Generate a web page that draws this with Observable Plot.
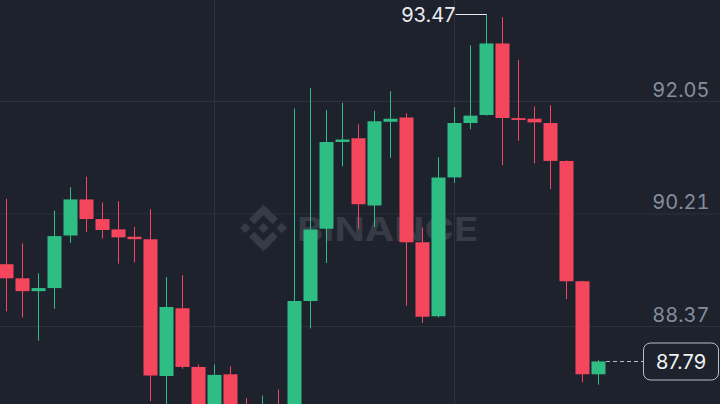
<!DOCTYPE html>
<html><head><meta charset="utf-8">
<script src="https://cdn.jsdelivr.net/npm/d3@7"></script>
<script src="https://cdn.jsdelivr.net/npm/@observablehq/plot@0.6"></script>
<style>
html,body{margin:0;padding:0;background:#1e222d;}
#chart{width:720px;height:404px;overflow:hidden;}
</style></head><body><div id="chart"></div>
<script>
const opens  = [89.38,89.15,88.94,88.99,89.85,90.44,90.12,89.95,89.83,89.79,87.55,88.66,87.70,86.90,87.58,87.00,86.75,87.05,86.90,88.78,89.96,91.38,91.44,90.34,91.71,91.78,89.74,88.53,90.80,91.69,91.82,92.99,91.77,91.76,91.69,91.07,89.10,87.58];
const highs  = [90.45,89.72,89.23,90.26,90.64,90.81,90.39,90.41,89.99,90.28,89.17,89.20,87.74,87.74,87.71,87.19,87.23,87.33,91.93,92.26,91.90,92.02,91.67,91.89,92.21,91.85,89.98,91.13,91.95,92.96,93.47,93.42,92.72,91.96,91.98,91.08,89.11,87.81];
const lows   = [88.61,88.51,88.13,88.65,89.73,89.91,89.80,89.39,89.41,87.14,86.95,87.67,86.80,86.80,86.70,86.60,86.60,86.70,86.80,88.33,89.40,90.98,89.96,89.99,91.12,88.70,88.42,88.51,90.71,91.59,91.81,91.00,91.40,91.03,90.61,88.81,87.45,87.41];
const closes = [89.15,88.94,88.99,89.84,90.44,90.12,89.94,89.82,89.79,87.56,88.68,87.70,86.90,87.57,86.80,86.70,87.05,86.80,88.78,89.95,91.38,91.42,90.36,91.72,91.76,89.74,88.52,90.80,91.69,91.81,92.99,91.77,91.74,91.70,91.07,89.10,87.58,87.79];
const priceTicks = [92.05, 90.21, 88.37];
const timeGrid = [13, 28];
const lastPrice = 87.79;
const watermark = "BINANCE";

const candles = opens.map((o, i) => ({i, open: o, high: highs[i], low: lows[i], close: closes[i]}));
const UP = "#2ebd85", DOWN = "#f6465d", BG = "#1e222d";
const col = d => d.close >= d.open ? UP : DOWN;
const hi = candles.reduce((a, b) => b.high > a.high ? b : a);

const chart = Plot.plot({
  width: 720, height: 404, margin: 0,
  style: {background: BG, fontFamily: "Inter, 'Noto Sans', sans-serif"},
  x: {type: "linear", domain: [-0.375, 44.625], axis: null},
  y: {domain: [87.094, 93.702], axis: null},
  marks: [
    Plot.gridY(priceTicks, {stroke: "#2c313c", strokeOpacity: 1}),
    Plot.gridX(timeGrid, {stroke: "#2c313c", strokeOpacity: 1}),
    Plot.ruleX(candles, {x: "i", y1: "low", y2: "high", stroke: col, strokeWidth: 1, clip: true}),
    Plot.ruleX(candles, {x: "i", y1: "open", y2: "close", stroke: col, strokeWidth: 14, clip: true}),
    Plot.axisY(priceTicks, {anchor: "right", tickSize: 0, tickPadding: 0, textAnchor: "end", dx: -11, dy: -11, fontSize: 20, color: "#848e9c", tickFormat: d => d.toFixed(2)}),
    Plot.text([hi], {x: "i", y: "high", text: d => d.high.toFixed(2), textAnchor: "end", dx: -31, dy: 1, fill: "#eaecef", fontSize: 20})
  ]
});
document.getElementById("chart").appendChild(chart);

const svg = d3.select(chart);
const xs = chart.scale("x"), ys = chart.scale("y");

// watermark behind candles
const wm = svg.insert("g", "g[aria-label='rule']").attr("fill", "#363b46");
wm.append("path")
  .attr("transform", "translate(240,204.5) scale(1.958)")
  .attr("d", "M16.624 13.9202l2.7175 2.7154-7.353 7.353-7.353-7.352 2.7175-2.7164 4.6355 4.6595 4.6356-4.6595zm4.6366-4.6366L24 12l-2.7154 2.7164L18.5682 12l2.6924-2.7164zm-9.272.001l2.7163 2.6914-2.7164 2.7174v-.001L9.2721 12l2.7164-2.7154zm-9.2722-.001L5.4088 12l-2.6914 2.6924L0 12l2.7164-2.7164zM11.9885.0115l7.353 7.329-2.7174 2.7154-4.6356-4.6356-4.6355 4.6595-2.7174-2.7154 7.353-7.353z");
wm.append("text").text(watermark)
  .attr("x", 297).attr("y", 241).attr("text-anchor", "start")
  .attr("font-size", 33).attr("font-weight", 700)
  .attr("font-family", "Inter, sans-serif")
  .attr("textLength", 181).attr("lengthAdjust", "spacingAndGlyphs");

// high connector
const hx = xs.apply(hi.i) + 0.5, hy = Math.round(ys.apply(hi.high)) + 0.5;
svg.append("line").attr("x1", hx - 31).attr("x2", hx).attr("y1", hy).attr("y2", hy)
  .attr("stroke", "#eaecef").attr("stroke-width", 1);

// last price line & label
const last = candles[candles.length - 1];
const py = Math.round(ys.apply(lastPrice)) + 0.5;
svg.append("line").attr("x1", xs.apply(last.i) + 8).attr("x2", 643).attr("y1", py).attr("y2", py)
  .attr("stroke", "#b7bdc6").attr("stroke-dasharray", "4,3").attr("stroke-width", 1);
svg.append("rect").attr("x", 643.5).attr("y", py - 18.5).attr("width", 75).attr("height", 37)
  .attr("rx", 7).attr("fill", BG).attr("stroke", "#b7bdc6").attr("stroke-width", 1);
svg.append("text").text(lastPrice.toFixed(2)).attr("x", 681).attr("y", py)
  .attr("text-anchor", "middle").attr("dy", "0.35em").attr("fill", "#f0f1f3")
  .attr("font-size", 20).attr("font-family", "Inter, sans-serif");
</script></body></html>
